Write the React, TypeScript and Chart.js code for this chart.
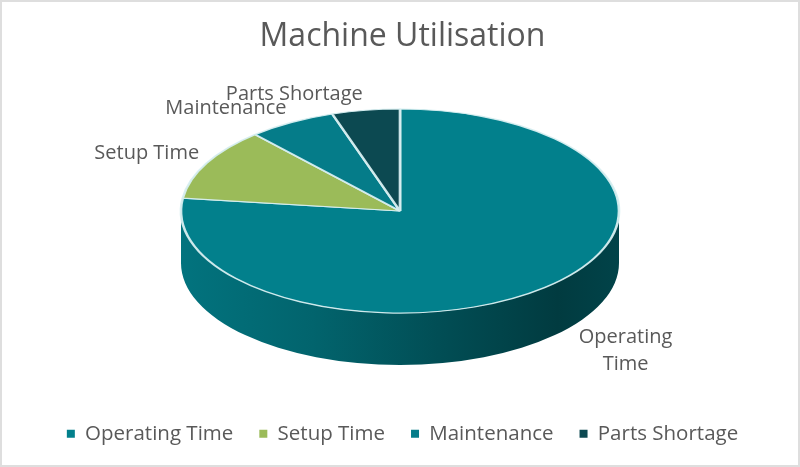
import React, { useEffect, useRef } from "react";
import { Chart, registerables } from "chart.js";

Chart.register(...registerables);

// ---- data ----
const categories = ["Operating Time", "Setup Time", "Maintenance", "Parts Shortage"];
const shares = [77, 11.5, 6.5, 5];
const sliceColors = ["#02808C", "#9BBB59", "#057C89", "#0C4951"];
const chartTitle = "Machine Utilisation";

// ---- styling / layout ----
const FONT = "'Open Sans', 'DejaVu Sans', sans-serif";
const TEXT = "#595959";
const CX = 400;
const CY = 211;
const RX = 219;
const RY = 102;
const DEPTH = 52;

function shade(hex: string, f: number): string {
  const n = parseInt(hex.slice(1), 16);
  const r = Math.round(((n >> 16) & 255) * f);
  const g = Math.round(((n >> 8) & 255) * f);
  const b = Math.round((n & 255) * f);
  return `rgb(${r},${g},${b})`;
}

const pie3d = {
  id: "pie3d",
  beforeDatasetsDraw(chart: any) {
    const meta = chart.getDatasetMeta(0);
    const ctx = chart.ctx as CanvasRenderingContext2D;
    ctx.save();
    meta.data.forEach((arc: any, i: number) => {
      const s = arc.startAngle;
      const e = arc.endAngle;
      const col = sliceColors[i];
      for (const off of [-2 * Math.PI, 0, 2 * Math.PI]) {
        const a = Math.max(s, off);
        const b = Math.min(e, off + Math.PI);
        if (b <= a) continue;
        const g = ctx.createLinearGradient(CX - RX, 0, CX + RX, 0);
        g.addColorStop(0, shade(col, 0.9));
        g.addColorStop(0.3, shade(col, 0.78));
        g.addColorStop(0.6, shade(col, 0.6));
        g.addColorStop(0.86, shade(col, 0.46));
        g.addColorStop(1, shade(col, 0.52));
        ctx.beginPath();
        ctx.ellipse(CX, CY, RX, RY, 0, a, b, false);
        ctx.ellipse(CX, CY + DEPTH, RX, RY, 0, b, a, true);
        ctx.closePath();
        ctx.fillStyle = g;
        ctx.fill();
      }
    });
    ctx.restore();
    const a0 = meta.data[0];
    ctx.save();
    ctx.translate(CX, CY);
    ctx.scale(RX / a0.outerRadius, RY / a0.outerRadius);
    ctx.translate(-a0.x, -a0.y);
  },
  afterDatasetsDraw(chart: any) {
    chart.ctx.restore();
  },
  afterDraw(chart: any) {
    const meta = chart.getDatasetMeta(0);
    const ctx = chart.ctx as CanvasRenderingContext2D;
    ctx.save();
    ctx.font = `20px ${FONT}`;
    ctx.fillStyle = TEXT;
    ctx.textBaseline = "middle";
    meta.data.forEach((arc: any, i: number) => {
      const m = (arc.startAngle + arc.endAngle) / 2;
      const c = Math.cos(m);
      const sn = Math.sin(m);
      const label = chart.data.labels[i] as string;
      const lines = c > 0.2 ? label.split(" ") : [label];
      let x = CX + (RX + 6) * c + (c > 0 ? 30 : -2);
      const y = CY + (RY + 12) * sn + (sn > 0 ? DEPTH + 2 : -4);
      const lh = 27;
      if (c > 0) {
        const w = Math.max(...lines.map((l) => ctx.measureText(l).width));
        x += w / 2;
        ctx.textAlign = "center";
      } else {
        ctx.textAlign = "right";
      }
      lines.forEach((l, k) => {
        ctx.fillText(l, x, y + (k - (lines.length - 1) / 2) * lh);
      });
    });
    ctx.restore();
  },
};

export default function App() {
  const ref = useRef<HTMLCanvasElement>(null);
  useEffect(() => {
    document.body.style.margin = "0";
    Chart.defaults.font.family = FONT;
    const chart = new Chart(ref.current!, {
      type: "pie",
      data: {
        labels: categories,
        datasets: [
          {
            data: shares,
            backgroundColor: sliceColors,
            borderColor: "rgba(214,238,240,0.95)",
            borderWidth: 2,
            hoverOffset: 0,
            clip: false as any,
          },
        ],
      },
      options: {
        responsive: false,
        animation: false,
        devicePixelRatio: 1,
        layout: { padding: { top: 0, bottom: 13, left: 5, right: 0 } },
        plugins: {
          title: {
            display: true,
            text: chartTitle,
            color: TEXT,
            font: { size: 32, weight: "normal", family: FONT },
            padding: { top: 18, bottom: 10 },
          },
          legend: {
            position: "bottom",
            labels: {
              color: TEXT,
              font: { size: 20.5, family: FONT },
              boxWidth: 8,
              boxHeight: 8,
              padding: 26,
              generateLabels: (ch: any) =>
                ch.data.labels.map((l: string, i: number) => ({
                  text: l,
                  fillStyle: sliceColors[i],
                  strokeStyle: sliceColors[i],
                  lineWidth: 0,
                  hidden: false,
                  index: i,
                  fontColor: TEXT,
                })),
            },
          },
          tooltip: { enabled: false },
        },
      },
      plugins: [pie3d],
    });
    return () => chart.destroy();
  }, []);
  return (
    <div style={{ position: "relative", width: 800, height: 467, background: "#fff" }}>
      <canvas ref={ref} width={800} height={467} style={{ display: "block", width: 800, height: 467 }} />
      <div
        style={{
          position: "absolute",
          left: 0,
          top: 0,
          width: 800,
          height: 467,
          boxSizing: "border-box",
          border: "2px solid #dedede",
          pointerEvents: "none",
        }}
      />
    </div>
  );
}
